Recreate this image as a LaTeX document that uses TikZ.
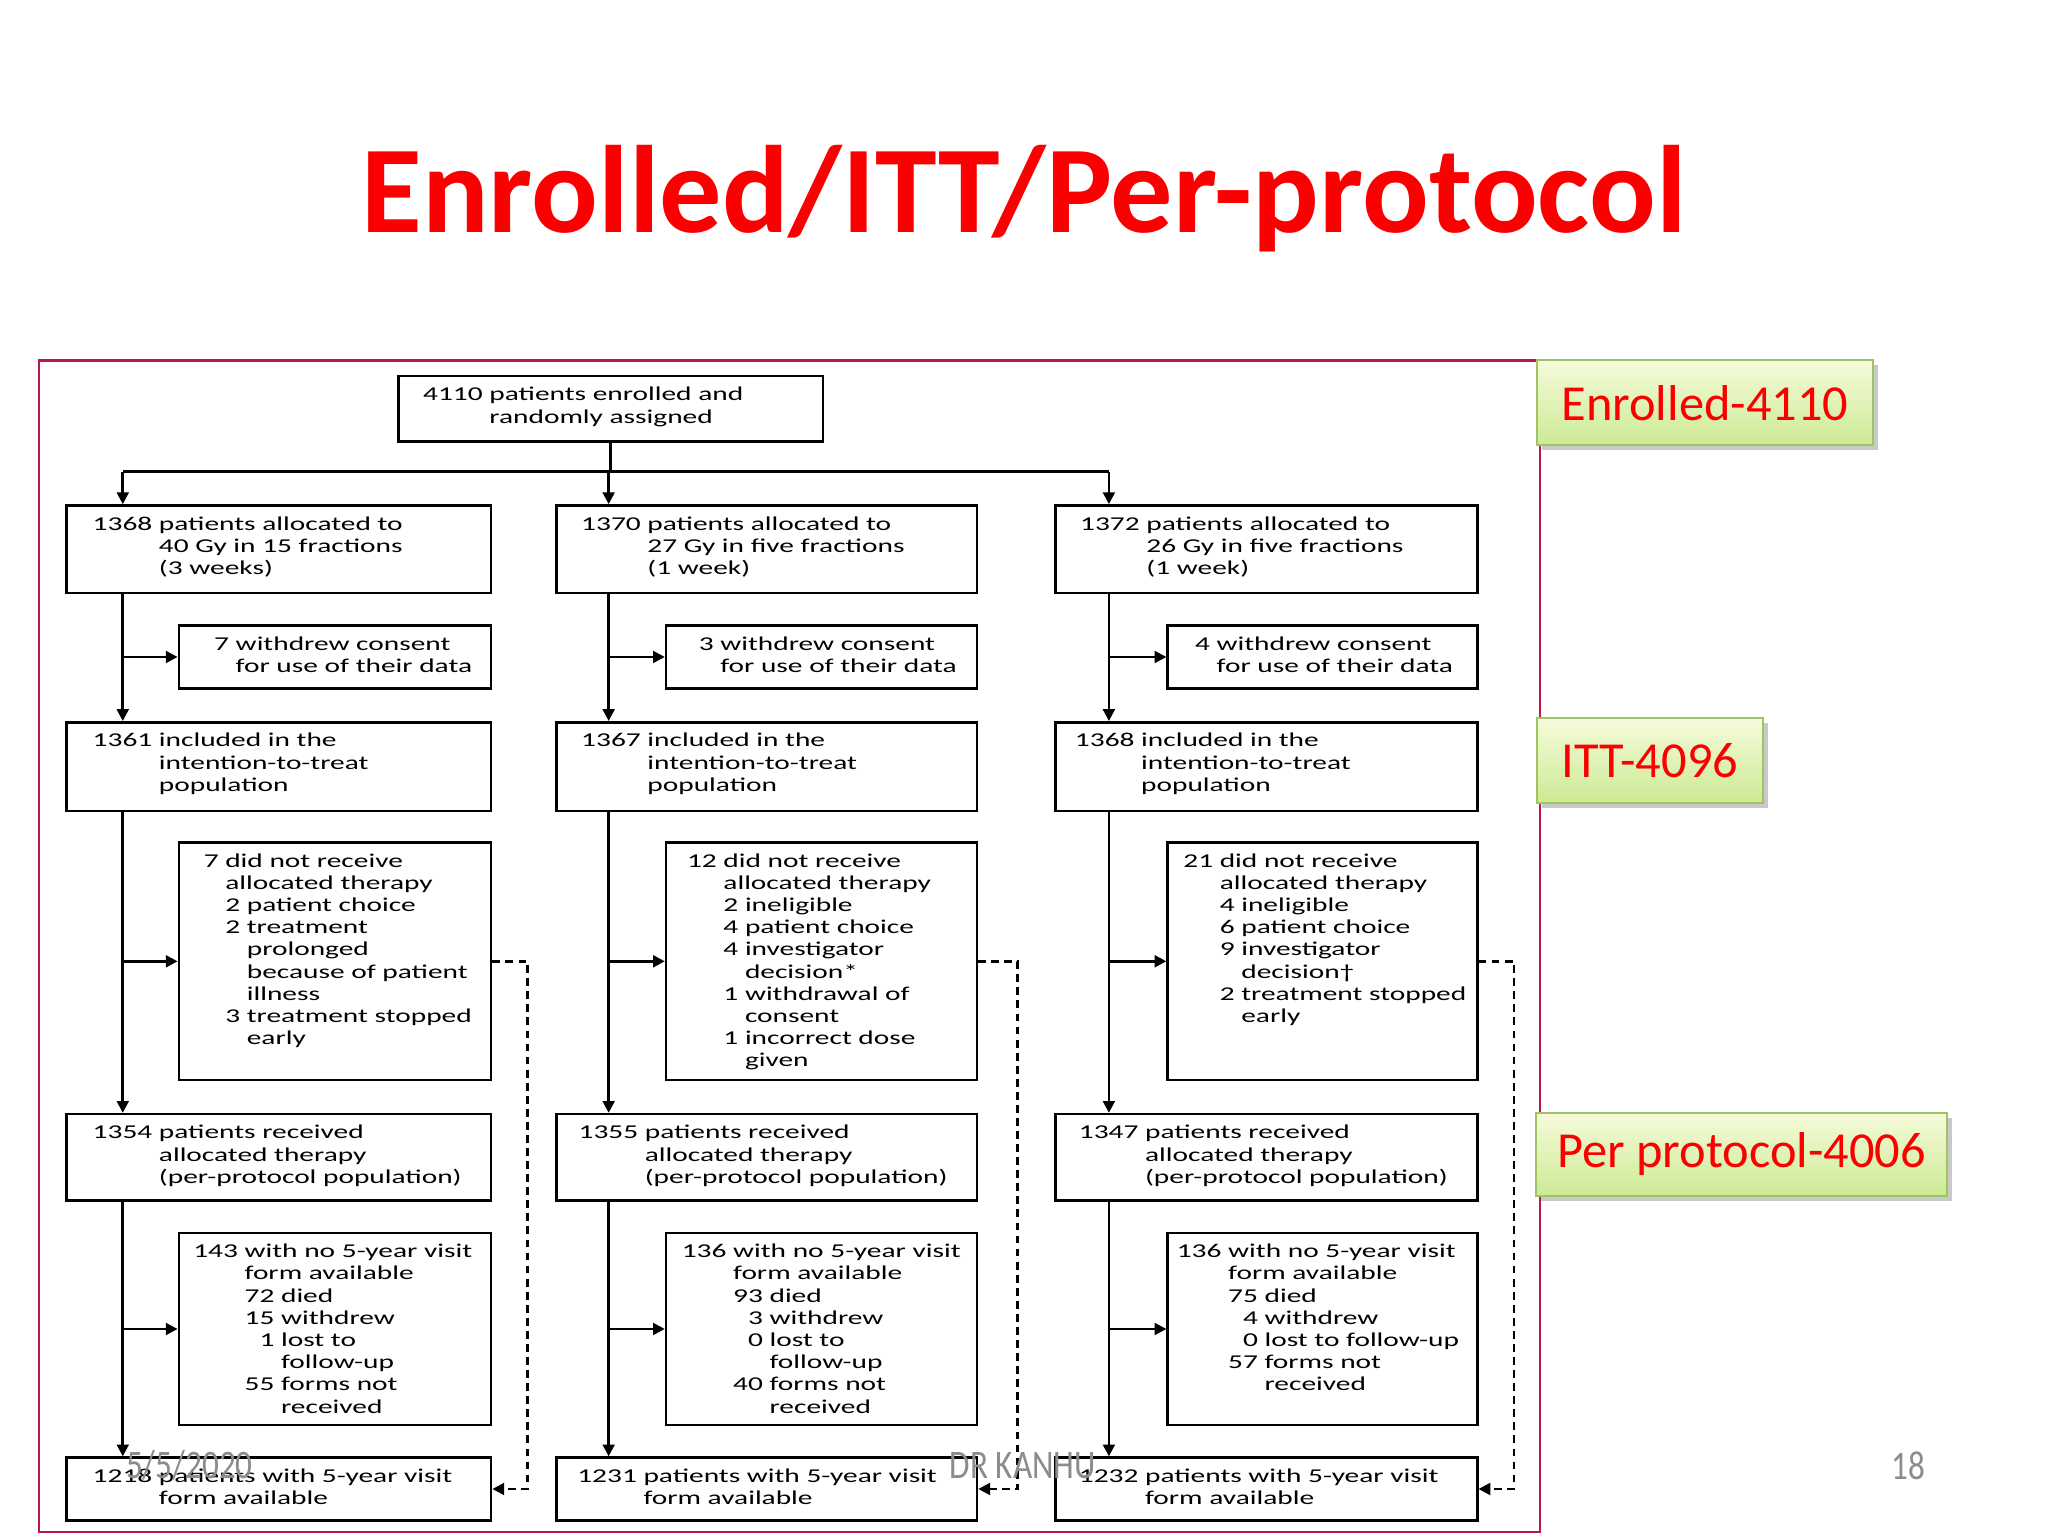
\documentclass[tikz,border=0pt]{standalone}
\usepackage{fontspec}
\setmainfont{Carlito}
\newfontfamily\flowfont[FakeStretch=1.5]{Carlito}
\newfontfamily\footfont[FakeStretch=0.82]{Carlito}
\usepackage{xcolor}
\usetikzlibrary{arrows.meta,shadows}

\definecolor{framered}{RGB}{190,22,75}
\definecolor{titlered}{RGB}{250,0,0}
\definecolor{lbltop}{RGB}{246,251,218}
\definecolor{lblbot}{RGB}{204,234,148}
\definecolor{lblline}{RGB}{160,195,100}
\definecolor{footgray}{RGB}{140,140,140}

\newcommand{\cell}[4]{\begin{minipage}[t][#2][t]{#1}\vspace{3.5pt}\hspace*{#3}\begin{tabular}[t]{@{}l@{\ }l@{}}#4\end{tabular}\end{minipage}}
\newcommand{\sub}[1]{\begin{tabular}[t]{@{}r@{\ }l@{}}#1\end{tabular}}
\renewcommand{\arraystretch}{1}

\begin{document}
\begin{tikzpicture}[x=0.5pt,y=-0.5pt,>={Triangle[length=4.5pt,width=4.5pt]},
	box/.style={draw, line width=1pt, anchor=north west, inner sep=0pt, font=\flowfont\fontsize{7.5}{8.5}\selectfont},
	conn/.style={line width=1pt},
	lbl/.style={draw=lblline, line width=0.8pt, top color=lbltop, bottom color=lblbot, anchor=north west, inner sep=0pt,
		text=titlered, font=\fontsize{19.3}{23}\selectfont, drop shadow={shadow xshift=2pt, shadow yshift=-2pt, opacity=0.35, fill=black!60}},
	foot/.style={text=footgray, inner sep=0pt, font=\footfont\fontsize{15.5}{18}\selectfont}]
\fill[white] (0,0) rectangle (1568,1176);
\useasboundingbox (0,0) rectangle (1568,1176);

\node[anchor=base, text=titlered, font=\fontsize{47.6}{52}\selectfont\bfseries] (title) at (784,178) {Enrolled/ITT/Per-protocol};

\draw[framered, line width=1pt] (30,276) rectangle (1179,1173);

\node[box] (enrol) at (304,287)  {\cell{162.5pt}{25pt}{9.5pt}{4110 & patients enrolled and\\ & randomly assigned}};

  \node[box] (alloc1) at (50,386)   {\cell{162.5pt}{33.5pt}{10pt}{1368 & patients allocated to\\ & 40 Gy in 15 fractions\\ & (3 weeks)}};
  \node[box] (alloc2) at (425,386)  {\cell{161pt}{33.5pt}{9.5pt}{1370 & patients allocated to\\ & 27 Gy in five fractions\\ & (1 week)}};
  \node[box] (alloc3) at (807,386)  {\cell{161.5pt}{33.5pt}{9.5pt}{1372 & patients allocated to\\ & 26 Gy in five fractions\\ & (1 week)}};

  \node[box] (wd1) at (136,478)  {\cell{119.5pt}{24pt}{13.5pt}{7 & withdrew consent\\ & for use of their data}};
  \node[box] (wd2) at (509,478)  {\cell{119pt}{24pt}{12.5pt}{3 & withdrew consent\\ & for use of their data}};
  \node[box] (wd3) at (893,478)  {\cell{118.5pt}{24pt}{10.5pt}{4 & withdrew consent\\ & for use of their data}};

  \node[box] (itt1) at (50,552)   {\cell{162.5pt}{34pt}{10pt}{1361 & included in the\\ & intention-to-treat\\ & population}};
  \node[box] (itt2) at (425,552)  {\cell{161pt}{34pt}{9.5pt}{1367 & included in the\\ & intention-to-treat\\ & population}};
  \node[box] (itt3) at (807,552)  {\cell{161.5pt}{34pt}{7.5pt}{1368 & included in the\\ & intention-to-treat\\ & population}};

  \node[box] (nr1) at (136,644)  {\cell{119.5pt}{91pt}{9.5pt}{7 & did not receive\\ & allocated therapy\\
		& \sub{2 & patient choice\\ 2 & treatment\\ & prolonged\\ & because of patient\\ & illness\\ 3 & treatment stopped\\ & early}}};
  \node[box] (nr2) at (509,644)  {\cell{119pt}{91pt}{8pt}{12 & did not receive\\ & allocated therapy\\
		& \sub{2 & ineligible\\ 4 & patient choice\\ 4 & investigator\\ & decision*\\ 1 & withdrawal of\\ & consent\\ 1 & incorrect dose\\ & given}}};
  \node[box] (nr3) at (893,644)  {\cell{118.5pt}{91pt}{6pt}{21 & did not receive\\ & allocated therapy\\
		& \sub{4 & ineligible\\ 6 & patient choice\\ 9 & investigator\\ & decision\textdagger\\ 2 & treatment stopped\\ & early}}};

  \node[box] (pp1) at (50,852)   {\cell{162.5pt}{33pt}{10pt}{1354 & patients received\\ & allocated therapy\\ & (per-protocol population)}};
  \node[box] (pp2) at (425,852)  {\cell{161pt}{33pt}{8.5pt}{1355 & patients received\\ & allocated therapy\\ & (per-protocol population)}};
  \node[box] (pp3) at (807,852)  {\cell{161.5pt}{33pt}{9pt}{1347 & patients received\\ & allocated therapy\\ & (per-protocol population)}};

  \node[box] (nv1) at (136,943)  {\cell{119.5pt}{73.5pt}{5.5pt}{143 & with no 5-year visit\\ & form available\\
		& \sub{72 & died\\ 15 & withdrew\\ 1 & lost to\\ & follow-up\\ 55 & forms not\\ & received}}};
  \node[box] (nv2) at (509,943)  {\cell{119pt}{73.5pt}{6pt}{136 & with no 5-year visit\\ & form available\\
		& \sub{93 & died\\ 3 & withdrew\\ 0 & lost to\\ & follow-up\\ 40 & forms not\\ & received}}};
  \node[box] (nv3) at (893,943)  {\cell{118.5pt}{73.5pt}{3.5pt}{136 & with no 5-year visit\\ & form available\\
		& \sub{75 & died\\ 4 & withdrew\\ 0 & lost to follow-up\\ 57 & forms not\\ & received}}};

  \node[box] (fin1) at (50,1115)  {\cell{162.5pt}{24pt}{10pt}{1218 & patients with 5-year visit\\ & form available}};
  \node[box] (fin2) at (425,1115) {\cell{161pt}{24pt}{8pt}{1231 & patients with 5-year visit\\ & form available}};
  \node[box] (fin3) at (807,1115) {\cell{161.5pt}{24pt}{9pt}{1232 & patients with 5-year visit\\ & form available}};

\coordinate (c1) at (94,361);
\coordinate (c2) at (466,361);
\coordinate (c3) at (849,361);

\draw[conn] (enrol.south) -- (enrol.south |- c2);
\draw[conn] (c1) -- (c3);

\foreach \i/\d in {1/27,2/30,3/27}{
	\draw[conn,->] (c\i) -- (c\i |- alloc\i.north);
	\draw[conn,->] (c\i |- alloc\i.south) -- (c\i |- itt\i.north);
	\draw[conn,->] (c\i |- itt\i.south) -- (c\i |- pp\i.north);
	\draw[conn,->] (c\i |- pp\i.south) -- (c\i |- fin\i.north);
	\path[conn,->]
		(c\i |- wd\i.west) edge (wd\i.west)
		(c\i |- nr\i.west) edge (nr\i.west)
		(c\i |- nv\i.west) edge (nv\i.west);
	\draw[conn,->,dashed,dash pattern=on 3pt off 2pt] (nr\i.east) -- ++(\d,0) |- (fin\i.east);
}

\node[lbl, minimum width=128.5pt, minimum height=32.5pt] (lenrol) at (1176,275) {Enrolled-4110};
\node[lbl, minimum width=86.5pt, minimum height=32.5pt] (litt) at (1176,549) {ITT-4096};
\node[lbl, minimum width=157.5pt, minimum height=32pt] (lpp) at (1175,851) {Per protocol-4006};

\node[foot] (date) at (145,1122) {5/5/2020};
\node[foot] (author) at (783,1122) {DR KANHU};
\node[foot] (pageno) at (1461,1122) {18};
\end{tikzpicture}
\end{document}
